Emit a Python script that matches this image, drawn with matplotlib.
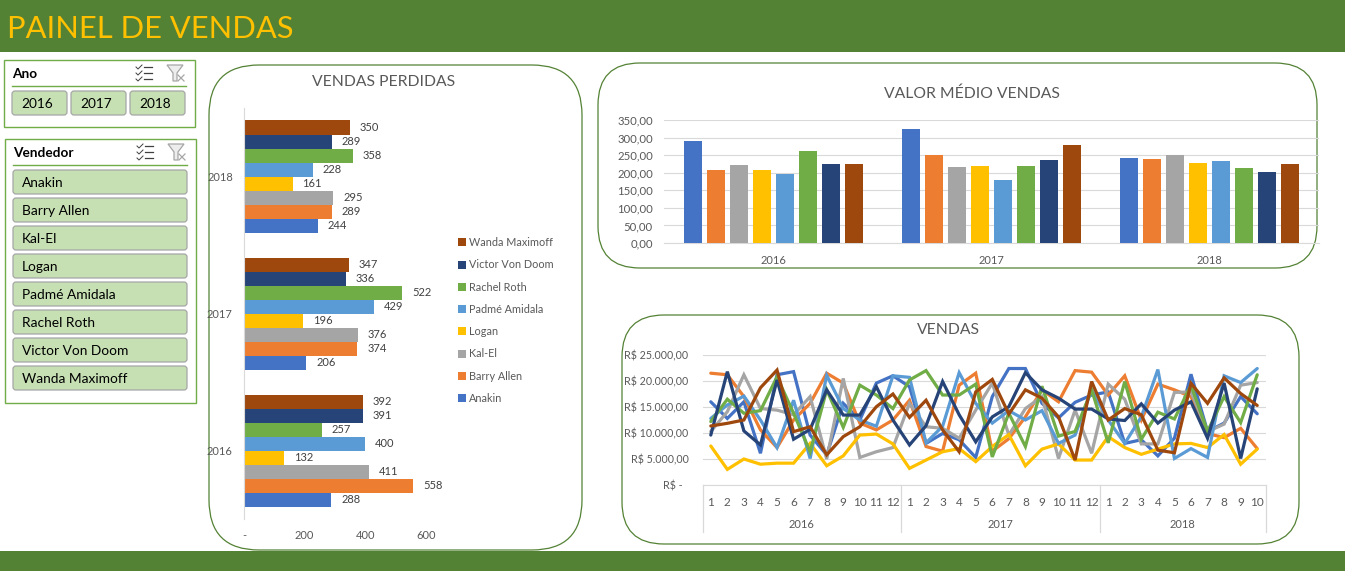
import numpy as np
import matplotlib
matplotlib.use('Agg')
import matplotlib.pyplot as plt
from matplotlib.patches import FancyBboxPatch, Rectangle, Polygon
from matplotlib.transforms import blended_transform_factory

plt.rcParams['font.family'] = ['Lato', 'DejaVu Sans']

W, H = 1345, 571

# =============================================================================
# Data
# =============================================================================
vendedores = ['Anakin', 'Barry Allen', 'Kal-El', 'Logan', 'Padmé Amidala',
              'Rachel Roth', 'Victor Von Doom', 'Wanda Maximoff']
cores = ['#4472C4', '#ED7D31', '#A5A5A5', '#FFC000',
         '#5B9BD5', '#70AD47', '#264478', '#9E480E']
anos = ['2016', '2017', '2018']

perdidas_2016 = [288, 558, 411, 132, 400, 257, 391, 392]
perdidas_2017 = [206, 374, 376, 196, 429, 522, 336, 347]
perdidas_2018 = [244, 289, 295, 161, 228, 358, 289, 350]

medio_2016 = [290, 208, 223, 208, 197, 262, 225, 225]
medio_2017 = [325, 250, 215, 220, 180, 220, 235, 278]
medio_2018 = [243, 240, 250, 228, 233, 212, 202, 225]

meses = [str(m) for m in range(1, 13)] * 2 + [str(m) for m in range(1, 11)]

v_anakin = [16, 12.8, 16, 6.1, 21.2, 21.8, 9.6, 5.8, 15.7, 12.5, 19.6, 21,
            18.9, 8, 9.9, 8.7, 5.3, 17, 22.4, 22.4, 15.7, 12.9, 15.9, 17.3,
            17.9, 8, 8.7, 5.6, 9, 21.3, 10.3, 11.9, 17, 13.7]
v_barry = [21.5, 21.2, 17, 10.6, 7.2, 12.5, 15.7, 21.5, 19.6, 11.9, 10.6, 12.5,
           16.3, 7.4, 6.5, 19.2, 21.5, 6.5, 8.9, 13.1, 18.3, 16, 22, 21.7,
           17.3, 21, 12.5, 19.4, 18.3, 17, 9.9, 9.1, 10.9, 7]
v_kal = [10.3, 14.1, 21.2, 14.7, 14.4, 13.5, 17, 5, 20.5, 5.3, 6.4, 7.2,
         15.7, 11.2, 10.9, 9, 14.4, 19.6, 9.6, 14.7, 17, 5.1, 14.4, 6.1,
         19.4, 16.5, 7.9, 7.9, 17.8, 17.9, 10.3, 11.7, 19.2, 19.7]
v_logan = [7.5, 3, 5, 4, 4.2, 4.2, 8, 3.7, 5.6, 9.6, 9.8, 7.9,
           3.2, 4.8, 6.4, 7, 4.5, 7.4, 9.7, 3.7, 6.9, 7.9, 4.8, 4.8,
           9.3, 7.2, 5.9, 6.9, 7.9, 8, 7.2, 9.7, 4, 6.9]
v_padme = [12.8, 15.4, 17.1, 12.5, 7.2, 16.3, 5.1, 21.1, 14.7, 12.5, 11.3, 21,
           20.7, 8.1, 11.3, 21.6, 15.7, 11.9, 14.3, 12.5, 14.3, 8, 9.6, 18.3,
           12.5, 8, 13.1, 22.2, 5.1, 7, 5.3, 21, 19.7, 22.4]
v_rachel = [12.2, 16.5, 13.8, 14.3, 20.8, 13.8, 6.4, 18.3, 11.1, 19.2, 17.3, 14.7,
            20.2, 22, 17.3, 17.3, 19.4, 5.4, 13.8, 7.4, 19, 9.4, 10.3, 18.3,
            8.1, 19.9, 8.8, 14, 12.7, 19.2, 10.3, 17, 12, 21.2]
v_victor = [9.6, 21.8, 10.4, 7.7, 20.2, 8.8, 10.7, 18.3, 13.45, 13.45, 18.9, 12.5,
            7.7, 11.4, 19.9, 13.5, 8.3, 13.1, 15.06, 21.6, 18.3, 16.7, 14.6, 14.6,
            12.7, 12.4, 15.6, 11.9, 14.4, 16, 9, 19.6, 5.1, 18.5]
v_wanda = [11.35, 11.86, 12.5, 18.7, 22.1, 10.26, 11.2, 5.8, 9.3, 11.2, 15.06, 17.5,
           13, 16.3, 10.6, 6.4, 17.9, 20.3, 13.65, 18.3, 16.7, 13.1, 4.8, 19.9,
           12.5, 14.7, 13.5, 6.7, 6.2, 19.55, 15.7, 20.6, 17.6, 15.3]

VERDE = '#548235'
VERDE2 = '#70AD47'
CINZA = '#595959'
GRADE = '#D9D9D9'


def px_axes(x0, y0, x1, y1):
    # axes placed with pixel coordinates, y from the top of the image
    return fig.add_axes([x0 / W, 1 - y1 / H, (x1 - x0) / W, (y1 - y0) / H])


fig = plt.figure(figsize=(W / 100, H / 100), dpi=100, facecolor='white')

bg = fig.add_axes([0, 0, 1, 1])
bg.set_xlim(0, W)
bg.set_ylim(H, 0)
bg.axis('off')


def caixa(x0, y0, x1, y1, r, **kw):
    bg.add_patch(FancyBboxPatch((x0 + r, y0 + r), x1 - x0 - 2 * r, y1 - y0 - 2 * r,
                                boxstyle='round,pad=%f,rounding_size=%f' % (r, r), **kw))


def icones(x, y):
    # checklist and clear-filter buttons of the slicer header
    for i, dy in enumerate([-6, 0, 6]):
        bg.plot([x, x + 2, x + 6], [y + dy, y + dy + 2, y + dy - 2], color='#404040', lw=0.7)
        bg.plot([x + 8, x + 16], [y + dy, y + dy], color='#404040', lw=0.9)
    fx = x + 31
    bg.add_patch(Polygon([[fx, y - 8], [fx + 16, y - 8], [fx + 10, y], [fx + 10, y + 8],
                          [fx + 6, y + 8], [fx + 6, y]], closed=True, fc='#EDEDED',
                         ec='#A6A6A6', lw=0.9))
    bg.plot([fx + 11, fx + 17], [y + 2, y + 8], color='#A6A6A6', lw=0.9)
    bg.plot([fx + 17, fx + 11], [y + 2, y + 8], color='#A6A6A6', lw=0.9)


# faixas
bg.add_patch(Rectangle((0, 0), W, 52, fc=VERDE, ec='none'))
bg.add_patch(Rectangle((0, 551), W, 20, fc=VERDE, ec='none'))
bg.text(7, 28.5, 'PAINEL DE VENDAS', color='#FFC000', fontsize=22.2, va='center', ha='left')

# caixas dos graficos
caixa(209, 65, 582, 550, 50, fc='white', ec=VERDE, lw=0.9)
caixa(598, 63, 1317, 268, 42, fc='white', ec=VERDE, lw=0.9)
caixa(622, 315, 1299, 544, 42, fc='white', ec=VERDE, lw=0.9)

# segmentacao Ano
bg.add_patch(Rectangle((3.5, 59.5), 191, 67, fc='white', ec=VERDE2, lw=1))
bg.text(12, 73.5, 'Ano', fontsize=9.8, fontweight='bold', color='black', va='center')
bg.plot([12, 186], [86, 86], color=VERDE2, lw=1)
icones(136, 73)
for a, x0 in zip(anos, [12, 71, 130]):
    caixa(x0, 91, x0 + 55, 115, 3, fc='#C6E0B4', ec='#A6A6A6', lw=0.9)
    bg.text(x0 + 9, 104, a, fontsize=9.8, color='black', va='center')

# segmentacao Vendedor
bg.add_patch(Rectangle((4.5, 138.5), 191, 264, fc='white', ec=VERDE2, lw=1))
bg.text(13, 153, 'Vendedor', fontsize=9.8, fontweight='bold', color='black', va='center')
bg.plot([13, 187], [165, 165], color=VERDE2, lw=1)
icones(137, 152)
for i, nome in enumerate(vendedores):
    y0 = 170 + 28 * i
    caixa(13, y0, 187, y0 + 24, 3, fc='#C6E0B4', ec='#A6A6A6', lw=0.9)
    bg.text(22, y0 + 13, nome, fontsize=9.9, color='black', va='center')

# =============================================================================
# Vendas perdidas
# =============================================================================
bg.text(383.5, 81.5, 'VENDAS PERDIDAS', fontsize=11.3, color=CINZA, ha='center', va='center')

ax = px_axes(244, 108, 439, 519)
passo = 14 / 137
bar_handles = []
for s in range(8):
    vals = [perdidas_2016[s], perdidas_2017[s], perdidas_2018[s]]
    ypos = np.arange(3) + (s - 3.5) * passo
    b = ax.barh(ypos, vals, height=passo, color=cores[s], label=vendedores[s])
    ax.bar_label(b, padding=7, fontsize=8, color='#404040')
    bar_handles.append(b)
ax.set_xlim(0, 195 / 0.3033)
ax.set_ylim(-0.5, 2.5)
ax.set_yticks(range(3))
ax.set_yticklabels(anos, fontsize=8, color=CINZA)
ax.set_xticks([0, 200, 400, 600])
ax.set_xticklabels(['-', '200', '400', '600'], fontsize=8, color=CINZA)
ax.tick_params(length=0, pad=8)
ax.tick_params(axis='y', pad=8)
for sp in ['top', 'right', 'bottom']:
    ax.spines[sp].set_visible(False)
ax.spines['left'].set_color(GRADE)
ax.patch.set_alpha(0)

fig.legend(bar_handles[::-1], vendedores[::-1], loc='center left',
           bbox_to_anchor=(458 / W, 1 - 320.5 / H), frameon=False, fontsize=7.8,
           labelcolor=CINZA, handlelength=0.75, handleheight=0.75, handletextpad=0.25,
           labelspacing=1.04, borderpad=0, borderaxespad=0)

# =============================================================================
# Valor medio vendas
# =============================================================================
bg.text(972, 93.5, 'VALOR MÉDIO VENDAS', fontsize=11.3, color=CINZA, ha='center', va='center')

ax2 = px_axes(664, 120, 1319, 243)
larg = 23 / 218.3
for s in range(8):
    vals = [medio_2016[s], medio_2017[s], medio_2018[s]]
    ax2.bar(np.arange(3) + (s - 3.5) * larg, vals, width=18 / 218.3, color=cores[s], zorder=3)
ax2.set_xlim(-0.5, 2.5)
ax2.set_ylim(0, 350)
ax2.set_yticks(range(0, 351, 50))
ax2.set_yticklabels(['%d,00' % v for v in range(0, 351, 50)], fontsize=8.2, color=CINZA)
ax2.set_xticks(range(3))
ax2.set_xticklabels(anos, fontsize=8, color=CINZA)
ax2.tick_params(length=0)
ax2.tick_params(axis='x', pad=9)
ax2.tick_params(axis='y', pad=8)
ax2.grid(axis='y', color=GRADE, lw=0.8, zorder=0)
for sp in ['top', 'right', 'left']:
    ax2.spines[sp].set_visible(False)
ax2.spines['bottom'].set_color(GRADE)
ax2.patch.set_alpha(0)

# =============================================================================
# Vendas
# =============================================================================
bg.text(948, 330, 'VENDAS', fontsize=11.3, color=CINZA, ha='center', va='center')

ax3 = px_axes(702.5, 355, 1265.5, 485)
series = [v_anakin, v_barry, v_kal, v_logan, v_padme, v_rachel, v_victor, v_wanda]
x = np.arange(len(meses))
for s, serie in enumerate(series):
    ax3.plot(x, np.array(serie) * 1000, color=cores[s], lw=2.3, solid_joinstyle='miter',
             solid_capstyle='round', zorder=3)
ax3.set_xlim(-0.5, 33.5)
ax3.set_ylim(0, 25000)
ax3.set_yticks(range(0, 25001, 5000))
ax3.set_yticklabels(['R$ -  '] + ['R$ %d.000,00' % k for k in range(5, 26, 5)],
                    fontsize=7.7, color=CINZA)
ax3.set_xticks(x)
ax3.set_xticklabels(meses, fontsize=8.5, color=CINZA)
ax3.tick_params(length=0)
ax3.tick_params(axis='x', pad=9)
ax3.tick_params(axis='y', pad=10)
ax3.grid(axis='y', color=GRADE, lw=0.8, zorder=0)
for sp in ['top', 'right', 'left']:
    ax3.spines[sp].set_visible(False)
ax3.spines['bottom'].set_color(GRADE)
ax3.patch.set_alpha(0)

# eixo de anos embaixo dos meses
tr = blended_transform_factory(ax3.transData, ax3.transAxes)
for xs in [-0.5, 11.5, 23.5, 33.5]:
    ax3.plot([xs, xs], [0, -47 / 130], transform=tr, color=GRADE, lw=0.9, clip_on=False)
for a, xc in zip(anos, [5.5, 17.5, 28.5]):
    ax3.text(xc, -39 / 130, a, transform=tr, fontsize=8, color=CINZA, ha='center', va='center')

fig.savefig('out.png', dpi=100)
